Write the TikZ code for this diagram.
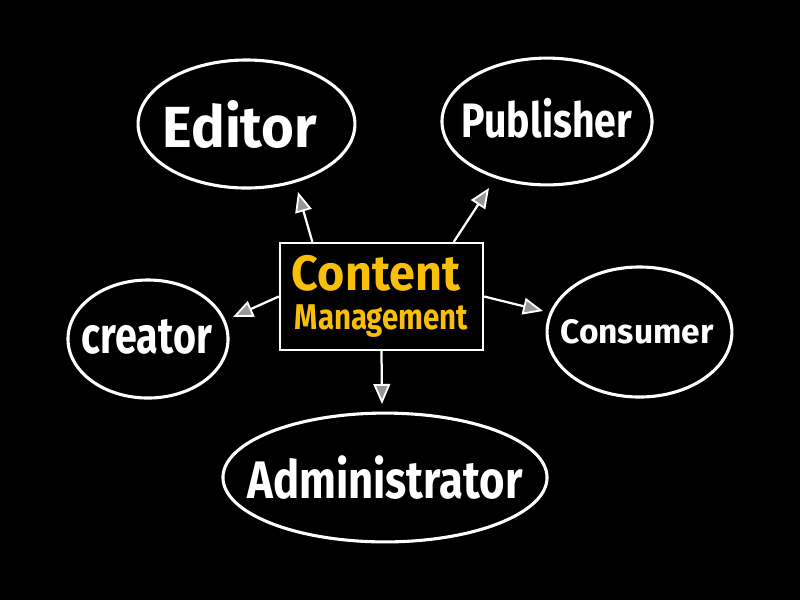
\documentclass[tikz,border=0pt]{standalone}
\usepackage{fontspec}
\setmainfont{Fira Sans}
\usepackage{graphicx}
\usetikzlibrary{shapes.geometric,arrows.meta,calc}
\definecolor{cmyellow}{RGB}{247,190,10}
\definecolor{headfill}{RGB}{150,150,150}
\newcommand{\fitwh}[3]{\resizebox{#1cm}{#2cm}{#3}}
\tikzset{
  ell/.style={draw=white, line width=2.2pt, ellipse, inner sep=0pt},
  word/.style={text=white, font=\bfseries, inner sep=0pt, anchor=base},
  yword/.style={text=cmyellow, font=\bfseries, inner sep=0pt, anchor=base},
  cbox/.style={draw=white, line width=1.6pt, rectangle, inner sep=0pt},
  arr/.style={draw=white, line width=1.6pt,
    -{Triangle[fill=headfill, length=0.5cm, width=0.42cm, line width=1.3pt]}},
}
\begin{document}
\begin{tikzpicture}[x=0.025cm, y=-0.025cm]
  \fill[black] (0,0) rectangle (800,600);
  \useasboundingbox (0,0) rectangle (800,600);

  % outer ellipses
  \node[ell, minimum width=5.42cm, minimum height=3.2cm] (ed) at (246.5,124) {};
  \node[ell, minimum width=5.25cm, minimum height=3.17cm] (pub) at (547,121.5) {};
  \node[ell, minimum width=4.0cm, minimum height=2.95cm] (cre) at (148,339) {};
  \node[ell, minimum width=4.62cm, minimum height=3.25cm] (con) at (639.5,332) {};
  \node[ell, minimum width=8.1cm, minimum height=3.22cm] (adm) at (385,477.5) {};

  % labels
  \node[word] (edt) at (240,147) {\fitwh{3.85}{1.175}{Editor}};
  \node[word] (pubt) at (547,137) {\fitwh{4.25}{0.98}{Publisher}};
  \node[word] (cret) at (147,353) {\fitwh{3.25}{0.85}{creator}};
  \node[word] (cont) at (637,343) {\fitwh{3.83}{0.6}{Consumer}};
  \node[word] (admt) at (385,498) {\fitwh{6.88}{1.07}{Administrator}};

  % central box
  \node[cbox, minimum width=5.075cm, minimum height=2.675cm] (box) at (381.5,296.5) {};
  \node[yword] (c1) at (376,290) {\fitwh{4.2}{0.88}{Content}};
  \node[yword] (c2) at (381.5,329) {\fitwh{4.33}{0.62}{Management}};

  % arrow tips
  \coordinate (tEd) at (298,192);
  \coordinate (tPub) at (489,188);
  \coordinate (tCre) at (233,317);
  \coordinate (tCon) at (543,311);
  \coordinate (tAdm) at (382,404);

  \draw[arr] ($(box.north west)!0.163!(box.north east)$) -- (tEd);
  \draw[arr] ($(box.north west)!0.852!(box.north east)$) -- (tPub);
  \draw[arr] (box.west) -- (tCre);
  \draw[arr] (box.east) -- (tCon);
  \draw[arr] (box.south) -- (tAdm);
\end{tikzpicture}
\end{document}
